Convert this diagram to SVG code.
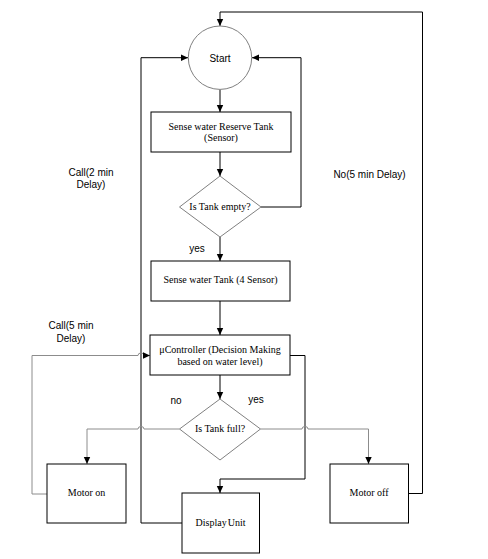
<svg xmlns="http://www.w3.org/2000/svg" width="488" height="559" viewBox="0 0 488 559">
<style>
.box{fill:#fff;stroke:#000;stroke-width:1}
.dec{fill:#fff;stroke:#808080;stroke-width:1}
.nt{font-family:"Liberation Serif","Times New Roman",serif;font-size:10px;fill:#000;text-anchor:middle}
.lt{font-family:"Liberation Sans",Arial,sans-serif;font-size:10px;fill:#000;text-anchor:middle}
.c{fill:none;stroke:#000;stroke-width:1}
.g{fill:none;stroke:#8c8c8c;stroke-width:1}
</style>
<defs>
<marker id="ah" markerUnits="userSpaceOnUse" markerWidth="8" markerHeight="8" viewBox="0 0 8 8" refX="7" refY="4" orient="auto">
<path d="M0,0.8 L7,4 L0,7.2 Z" fill="#000"/>
</marker>
</defs>
<rect width="488" height="559" fill="#fff"/>
<g id="connectors">
<path class="c" d="M220,89.5 V112" marker-end="url(#ah)"/>
<path class="c" d="M220,152 V176" marker-end="url(#ah)"/>
<path class="c" d="M261,207 H301 V57.7 H252" marker-end="url(#ah)"/>
<path class="c" d="M220,237 V261" marker-end="url(#ah)"/>
<path class="c" d="M220,301 V335" marker-end="url(#ah)"/>
<path class="c" d="M290,355.5 H305 V479 H220 V493" marker-end="url(#ah)"/>
<path class="c" d="M220,375 V399" marker-end="url(#ah)"/>
<path class="c" d="M182,523 H141 V57.7 H188" marker-end="url(#ah)"/>
<path class="c" d="M408,493.5 H422.5 V12 H220 V26" marker-end="url(#ah)"/>
<path class="g" d="M47,494 H32 V355.5 H138 A3,2.5 0 0 1 144,355.5 H150" marker-end="url(#ah)"/>
<path class="g" d="M179.5,429 H144 A3,2.5 0 0 0 138,429 H87 V464" marker-end="url(#ah)"/>
<path class="g" d="M260.5,429 H302 A3,2.5 0 0 1 308,429 H368.5 V464" marker-end="url(#ah)"/>
</g>
<g id="start">
<circle class="dec" cx="220" cy="57.7" r="31.7"/>
<text class="lt" x="220" y="61.5">Start</text>
</g>
<g id="sense-reserve">
<rect class="box" x="151" y="112" width="140" height="40"/>
<text class="nt" x="221" y="130">Sense water Reserve Tank</text>
<text class="nt" x="221" y="141">(Sensor)</text>
</g>
<g id="tank-empty">
<polygon class="dec" points="220,176 261,207 220,237 179.5,207"/>
<text class="nt" x="220" y="209.5">Is Tank empty?</text>
</g>
<g id="sense-tank">
<rect class="box" x="151" y="261" width="139" height="40"/>
<text class="nt" x="220.5" y="282.5">Sense water Tank (4 Sensor)</text>
</g>
<g id="controller">
<rect class="box" x="150" y="335" width="140" height="40"/>
<text class="nt" x="220" y="352.5">μController (Decision Making</text>
<text class="nt" x="220" y="365">based on water level)</text>
</g>
<g id="tank-full">
<polygon class="dec" points="220,399 260.5,429 220,460 179.5,429"/>
<text class="nt" x="220" y="432">Is Tank full?</text>
</g>
<g id="motor-on">
<rect class="box" x="47" y="464" width="79" height="59"/>
<text class="nt" x="86.5" y="496">Motor on</text>
</g>
<g id="display">
<rect class="box" x="182" y="493" width="77.5" height="60"/>
<text class="nt" x="220.5" y="525.5" word-spacing="-1.5">Display Unit</text>
</g>
<g id="motor-off">
<rect class="box" x="330" y="464" width="78.5" height="59"/>
<text class="nt" x="369" y="496">Motor off</text>
</g>
<g id="labels">
<text class="lt" x="91" y="176">Call(2 min</text>
<text class="lt" x="91" y="187.5">Delay)</text>
<text class="lt" x="369.5" y="177.5">No(5 min Delay)</text>
<text class="lt" x="197" y="251.5">yes</text>
<text class="lt" x="71" y="329">Call(5 min</text>
<text class="lt" x="71" y="341.5">Delay)</text>
<text class="lt" x="176" y="403.5">no</text>
<text class="lt" x="256" y="402.5">yes</text>
</g>
</svg>
